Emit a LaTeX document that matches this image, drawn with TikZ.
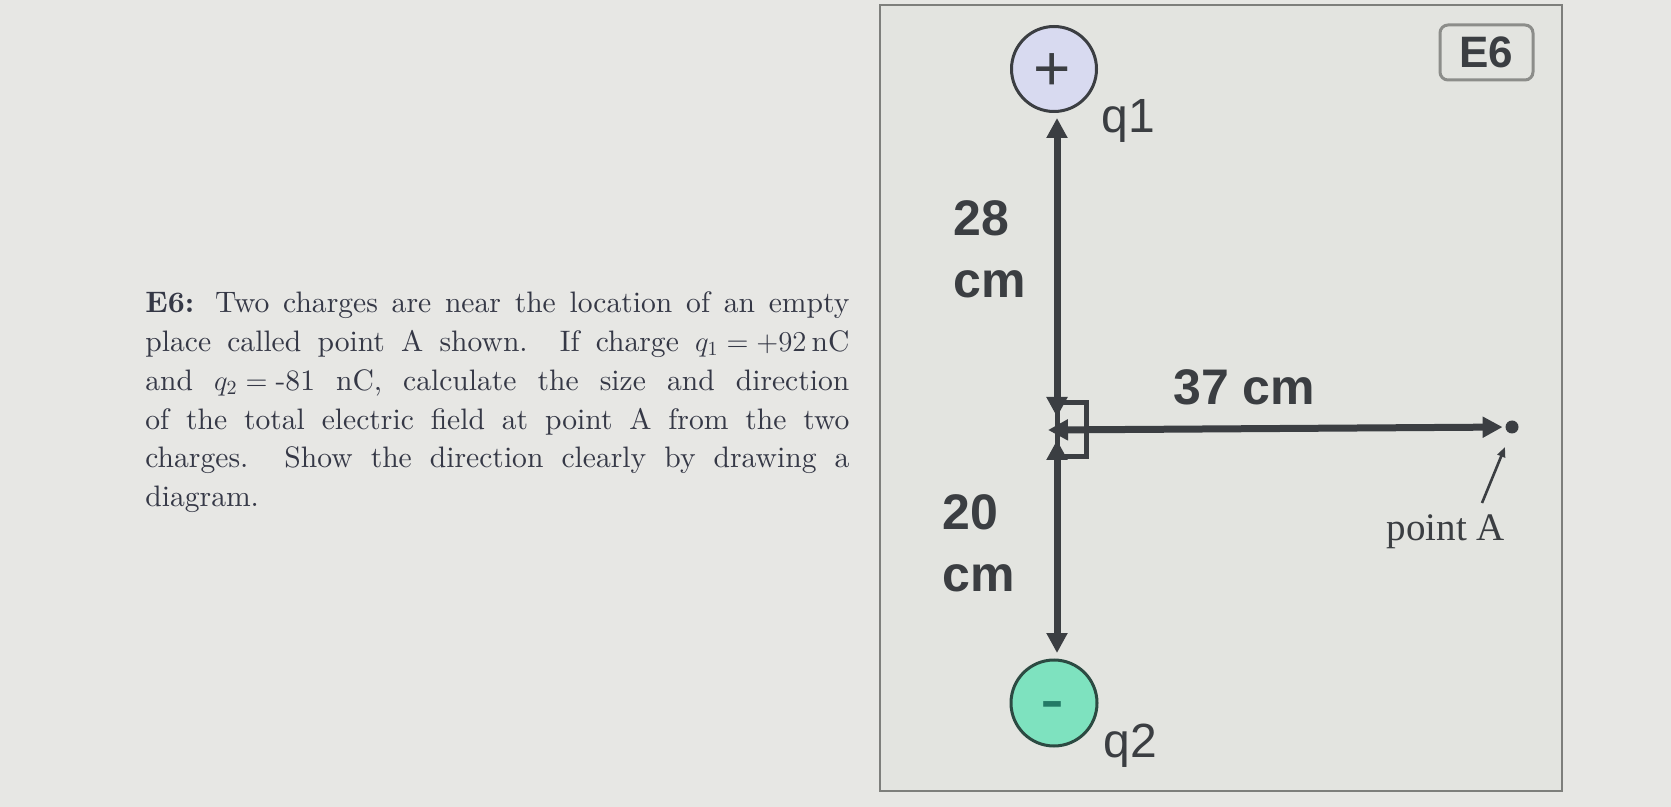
\documentclass[tikz,border=0pt]{standalone}
\usepackage{fontspec}
\newfontfamily\arialf{Liberation Sans}
\newfontfamily\timesf{Liberation Serif}
\newfontfamily\lmten{lmroman10}[Extension=.otf, UprightFont=*-regular, BoldFont=*-bold, ItalicFont=*-italic, BoldItalicFont=*-bolditalic]
\usetikzlibrary{arrows.meta}
\thickmuskip=5mu
\medmuskip=4mu
\definecolor{bgpage}{HTML}{E7E7E4}
\definecolor{bgframe}{HTML}{E3E4E0}
\definecolor{framecol}{HTML}{7E7F7C}
\definecolor{ink}{HTML}{3B3E42}
\definecolor{txtink}{HTML}{353846}
\definecolor{qonefill}{HTML}{D8DAF0}
\definecolor{qtwofill}{HTML}{7EE2BF}
\definecolor{qtwoline}{HTML}{2C4A42}
\definecolor{minuscol}{HTML}{237A66}
\definecolor{boxline}{HTML}{8C8D8A}
\tikzset{
  dimarrow/.style={draw=ink, line width=3.5pt, {Triangle[length=10pt,width=10pt]}-{Triangle[length=10pt,width=10pt]}},
  sanslab/.style={inner sep=0pt, text=ink, font=\arialf\bfseries\fontsize{25}{31}\selectfont},
  qlab/.style={inner sep=0pt, text=ink, font=\arialf\fontsize{24}{24}\selectfont},
  qplus/.style={circle, draw=ink, line width=1.5pt, fill=qonefill, minimum size=42.5pt, inner sep=0pt},
  qminus/.style={circle, draw=qtwoline, line width=1.5pt, fill=qtwofill, minimum size=43pt, inner sep=0pt},
  plussign/.style={inner sep=0pt, text=ink, font=\arialf\fontsize{32}{32}\selectfont},
  minussign/.style={inner sep=0pt, text=minuscol, font=\arialf\fontsize{36}{36}\selectfont},
  dot/.style={circle, fill=ink, minimum size=6.5pt, inner sep=0pt},
  e6box/.style={draw=boxline, line width=1.5pt, rounded corners=4pt, fill=bgframe, minimum width=46.5pt, minimum height=27.5pt, inner sep=0pt, text=ink, font=\arialf\bfseries\fontsize{22}{22}\selectfont},
  para/.style={inner sep=0pt, align=left, text=txtink, font=\lmten\fontsize{14.8}{19.4}\selectfont},
  pointer/.style={draw=ink, line width=1.3pt, -{Triangle[length=5pt,width=4pt]}},
}
\newcommand{\pline}[1]{\makebox[352pt][s]{#1}}
\begin{document}
\begin{tikzpicture}[x=0.5pt,y=-0.5pt]
\useasboundingbox (0,0) rectangle (1671,807);
\fill[bgpage] (0,0) rectangle (1671,807);
\draw[framecol, line width=1pt, fill=bgframe] (880,5) rectangle (1562,791);

% problem text
\node[para, anchor=north west] (txt) at (145,291.5) {%
\pline{\textbf{E6:} Two charges are near the location of an empty}\\
\pline{place called point A shown. If charge $q_1 = +92$\,nC}\\
\pline{and $q_2 = {}$-81 nC, calculate the size and direction}\\
\pline{of the total electric field at point A from the two}\\
\pline{charges.\ \ Show the direction clearly by drawing a}\\
diagram.};

% charges
\node[qplus] (q1) at (1054,69) {};
\node[plussign] (plus) at (1052,72) {+};
\node[qminus] (q2) at (1054,703) {};
\node[minussign] (minus) at (1052.5,712.5) {-};

% junction coordinates
\coordinate (jc) at (1057,430);
\coordinate (jl) at (1048,430);
\coordinate (qa) at (1057,118);
\coordinate (qb) at (1057,653);

% right-angle box
\draw[ink, line width=2.5pt] (1057,403) rectangle (1086,457);

% point A
\node[dot] (ptA) at (1512,427) {};

% dimension arrows
\draw[dimarrow, shorten >=6.5pt] (qa) -- (jc);
\draw[dimarrow, shorten <=5pt] (jc) -- (qb);
\draw[dimarrow, shorten >=1.25pt] (jl) -- (ptA);

% labels
\node[sanslab, anchor=base west] (l28) at (953,236) {28};
\node[sanslab, anchor=base west] (l28cm) at (953,298) {cm};
\node[sanslab, anchor=base west] (l20) at (942,530) {20};
\node[sanslab, anchor=base west] (l20cm) at (942,591) {cm};
\node[sanslab, anchor=base west] (l37) at (1173,405) {37 cm};
\node[qlab, anchor=base west] (lq1) at (1101,133) {q1};
\node[qlab, anchor=base west] (lq2) at (1103,757) {q2};

\node[e6box] (e6) at (1486.5,52.5) {E6};

\node[inner sep=0pt, text=ink, font=\timesf\fontsize{19.5}{20}\selectfont, anchor=base] (lblA) at (1446,540) {point A};
\coordinate (ps) at (1482,503);
\coordinate (pe) at (1505,447);
\draw[pointer] (ps) -- (pe);
\end{tikzpicture}
\end{document}
